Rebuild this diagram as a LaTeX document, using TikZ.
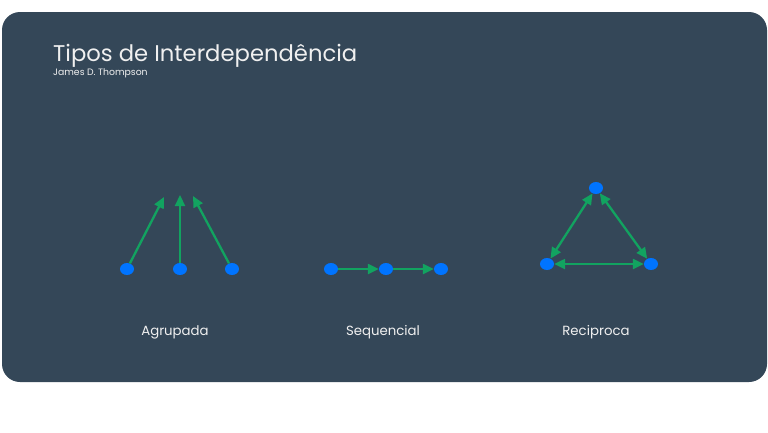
\documentclass[tikz,border=0pt]{standalone}
\usepackage{fontspec}
\setmainfont{Poppins}
\usetikzlibrary{shapes.geometric, arrows.meta, positioning}
\definecolor{panelbg}{RGB}{52,71,88}
\definecolor{dotblue}{RGB}{0,116,255}
\definecolor{arrowgreen}{RGB}{18,163,96}
\definecolor{textwhite}{RGB}{240,240,240}
\tikzset{
    dot/.style = {ellipse, fill=dotblue, minimum width=14pt, minimum height=12pt, inner sep=0pt},
    link/.style = {draw=arrowgreen, line width=2.3pt, -{Triangle[length=11pt, width=10pt]}},
    twoway/.style = {draw=arrowgreen, line width=2.3pt, {Triangle[length=11pt, width=10pt]}-{Triangle[length=11pt, width=10pt]}},
    caption/.style = {text=textwhite, font=\fontsize{13.3}{15}\selectfont}
}
\begin{document}
\begin{tikzpicture}[x=1pt, y=-1pt]
\useasboundingbox (0,0) rectangle (768,432);
\fill[panelbg, rounded corners=18pt] (2,12) rectangle (767,382);

\node[anchor=base west, inner sep=0pt, text=textwhite, font=\fontsize{22.7}{26}\selectfont] (title) at (53,61) {Tipos de Interdependência};
\node[anchor=base west, inner sep=0pt, text=textwhite, font=\fontsize{9.3}{11}\selectfont] (author) at (53,75) {James D. Thompson};

\node[dot] (ag1) at (127,269) {};
\node[dot] (ag2) at (180,269) {};
\node[dot] (ag3) at (232,269) {};
\coordinate (agtip1) at (164,197);
\coordinate (agtip2) at (180,195);
\coordinate (agtip3) at (193,196);
\draw[link] (ag1) -- (agtip1);
\draw[link] (ag2) -- (agtip2);
\draw[link] (ag3) -- (agtip3);
\node[caption] (agrupada) at (175,332) {Agrupada};

\node[dot] (sq1) at (331,269) {};
\node[dot] (sq2) at (386,269) {};
\node[dot] (sq3) at (441,269) {};
\draw[link] (sq1) -- (sq2);
\draw[link] (sq2) -- (sq3);
\node[caption] (sequencial) at (383,332) {Sequencial};

\node[dot] (rc1) at (596,188) {};
\node[dot] (rc2) at (547,264) {};
\node[dot] (rc3) at (651,264) {};
\draw[twoway] (rc1) -- (rc2);
\draw[twoway] (rc1) -- (rc3);
\draw[twoway] (rc2) -- (rc3);
\node[caption] (reciproca) at (596,332) {Reciproca};
\end{tikzpicture}
\end{document}
